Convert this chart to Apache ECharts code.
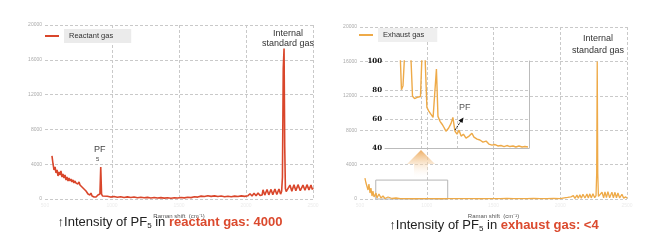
<!DOCTYPE html>
<html><head><meta charset="utf-8">
<script src="https://cdn.jsdelivr.net/npm/echarts@6/dist/echarts.min.js"></script>
<style>html,body{margin:0;padding:0;background:#fff}#c{width:650px;height:251px}</style>
</head><body><div id="c"></div>
<script>
// ---- data ----
const ramanTicks = [500, 1000, 1500, 2000, 2500];
const intensityTicks = [0, 4000, 8000, 12000, 16000, 20000];
const insetTicks = [40, 60, 80, 100];

const reactantShift = [552,560,567,575,582,590,597,604,612,619,627,634,642,649,657,664,672,679,687,694,701,709,716,724,731,739,746,754,761,769,776,784,791,799,806,813,821,828,836,843,851,858,866,873,881,888,895,903,910,916,922,929,940,965,990,1015,1040,1065,1090,1115,1140,1165,1190,1215,1240,1265,1290,1315,1340,1365,1390,1415,1440,1465,1490,1515,1540,1565,1590,1615,1640,1665,1690,1715,1740,1765,1790,1815,1840,1865,1890,1915,1940,1965,1990,2015,2030,2045,2060,2075,2090,2105,2120,2127,2140,2157,2170,2187,2200,2216,2230,2246,2258,2266,2272,2278,2284,2289,2294,2300,2312,2328,2342,2358,2372,2388,2405,2425,2440,2455,2470,2485,2495,2500];
const reactantIntensity = [4945,4025,3335,3680,2990,3335,2645,3105,2760,3220,2530,2875,2415,2760,2185,2530,2070,2415,2070,2300,1955,2185,1840,2070,1840,1955,1725,1955,1610,1725,1380,1495,1150,1265,920,805,575,690,460,690,345,460,230,345,230,345,460,345,575,3680,575,345,250,320,220,280,200,260,180,240,170,230,150,210,140,190,120,180,110,160,100,150,90,140,110,170,130,200,160,260,220,330,280,380,300,360,280,340,260,320,250,330,280,360,300,380,600,350,650,380,700,400,450,1050,450,1100,480,1100,500,1150,520,1150,560,900,2500,15000,17300,6000,1200,850,900,1600,900,1650,950,1650,950,1600,1000,1650,1050,1600,1100,1300];

const exhaustShift = [537,545,552,560,567,575,582,590,597,605,620,627,642,657,672,687,710,740,770,800,850,900,950,1000,1050,1100,1150,1200,1250,1300,1350,1400,1450,1500,1550,1600,1650,1700,1750,1800,1850,1900,1950,2000,2010,2030,2040,2055,2065,2080,2090,2098,2110,2125,2135,2147,2158,2170,2185,2200,2210,2222,2232,2245,2258,2268,2273,2277,2281,2286,2300,2313,2325,2335,2346,2357,2370,2387,2398,2410,2421,2432,2445,2462,2475,2490,2500];
const exhaustIntensity = [2436,1856,2088,1044,1740,696,1276,348,928,232,696,116,580,116,348,58,232,58,116,40,50,30,55,35,45,30,50,40,35,55,40,30,50,45,35,60,40,55,45,60,50,40,60,45,40,120,50,180,60,250,70,400,80,450,90,500,100,550,110,580,120,600,130,620,150,400,3000,16000,3000,300,120,780,140,820,150,850,150,800,140,780,130,700,120,550,100,250,80];

const insetShift = [604,639,656,664,670,678,689,699,707,715,723,730,738,744,750,756,763,771,779,787,794,800,806,814,822,829,837,847,857,864,872,880,888,896,905,915,927,938,946,958,969,981,993,1004,1016,1028,1039,1051,1063,1074,1086,1098,1109,1121,1133,1144,1156];
const insetIntensity = [160,150,120,80.2,83,110,130,110,75.7,74.1,74.8,74.1,75.5,105,130,102,68,65.2,63.2,61.1,59.8,94.5,61.8,58.4,56.4,54.3,51.6,53.6,57.0,61.1,51.6,49.5,52.3,48.2,49.5,46.8,48.2,50.2,47.5,46.1,45.5,44.1,44.8,42.7,42.0,42.4,41.4,41.7,41.0,41.7,41.0,41.4,40.7,41.4,40.7,41.0,40.7];

const zoomBoxShift = [618, 1157];
const zoomBoxIntensity = [0, 2200];

const zip = (a, b) => a.map((v, i) => [v, b[i]]);

const redC = '#d9462b', goldC = '#eeaa48';
const gridLine = {show: true, lineStyle: {color: '#c9c9c9', type: [3, 2], width: 1}};
const FONT = 'Liberation Sans, Arial, sans-serif';

function mainX(gi) {
  return {
    type: 'value', gridIndex: gi, min: ramanTicks[0], max: ramanTicks[ramanTicks.length - 1],
    interval: ramanTicks[1] - ramanTicks[0],
    axisLine: {show: false}, axisTick: {show: false},
    axisLabel: {fontSize: 5, color: '#ececec', margin: 4, fontFamily: FONT, formatter: v => String(v)},
    splitLine: Object.assign({showMinLine: false}, gridLine),
    name: 'Raman shift  (cm\u207B\u00B9)', nameLocation: 'middle', nameGap: 7,
    nameTextStyle: {fontSize: 6, color: '#555', fontFamily: FONT}
  };
}
function mainY(gi) {
  return {
    type: 'value', gridIndex: gi, min: intensityTicks[0], max: intensityTicks[intensityTicks.length - 1],
    interval: intensityTicks[1] - intensityTicks[0],
    axisLine: {show: false}, axisTick: {show: false},
    axisLabel: {fontSize: 5, color: '#aaa', margin: 3, fontFamily: FONT, formatter: v => String(v)},
    splitLine: gridLine
  };
}

const chart = echarts.init(document.getElementById('c'), null, {renderer: 'canvas'});
chart.setOption({
  animation: false,
  backgroundColor: '#fff',
  textStyle: {fontFamily: FONT},
  grid: [
    {left: 45, right: 337, top: 25, bottom: 52},
    {left: 360, right: 23, top: 27, bottom: 52},
    {left: 385, right: 121, top: 61, bottom: 103}
  ],
  legend: [
    {data: ['Reactant gas'], left: 45, top: 29, padding: 0, icon: 'rect', itemWidth: 14, itemHeight: 2,
     textStyle: {fontSize: 7.5, color: '#333', backgroundColor: '#ebebeb', padding: [3, 18, 3, 5], fontFamily: FONT}},
    {data: ['Exhaust gas'], left: 359, top: 28, padding: 0, icon: 'rect', itemWidth: 14, itemHeight: 2,
     textStyle: {fontSize: 7.5, color: '#333', backgroundColor: '#efefef', padding: [3, 13, 3, 5], fontFamily: FONT}}
  ],
  xAxis: [
    mainX(0), mainX(1),
    {type: 'value', gridIndex: 2, min: 600, max: 1160, interval: 140,
     axisLine: {show: true, lineStyle: {color: '#bbb'}}, axisTick: {show: false}, axisLabel: {show: false},
     splitLine: Object.assign({showMinLine: false, showMaxLine: false}, gridLine), z: 3}
  ],
  yAxis: [
    mainY(0), mainY(1),
    {type: 'value', gridIndex: 2, min: insetTicks[0], max: insetTicks[insetTicks.length - 1], interval: 20,
     axisLine: {show: false}, axisTick: {show: false},
     axisLabel: {fontSize: 7, fontWeight: 'bold', color: '#111', margin: 3, fontFamily: 'DejaVu Serif, serif'},
     splitLine: gridLine, z: 3},
    {type: 'value', gridIndex: 2, position: 'right', min: insetTicks[0], max: insetTicks[insetTicks.length - 1],
     axisLine: {show: true, lineStyle: {color: '#bbb'}}, axisTick: {show: false}, axisLabel: {show: false},
     splitLine: {show: false}, z: 3}
  ],
  series: [
    {name: 'Reactant gas', type: 'line', xAxisIndex: 0, yAxisIndex: 0, data: zip(reactantShift, reactantIntensity),
     symbol: 'none', color: redC, lineStyle: {width: 1.6, color: redC}},
    {name: 'Exhaust gas', type: 'line', xAxisIndex: 1, yAxisIndex: 1, data: zip(exhaustShift, exhaustIntensity),
     symbol: 'none', color: goldC, lineStyle: {width: 1.3, color: goldC},
     markArea: {silent: true, itemStyle: {color: 'rgba(0,0,0,0)', borderColor: '#b5b5b5', borderWidth: 1},
       data: [[{xAxis: zoomBoxShift[0], yAxis: zoomBoxIntensity[0]}, {xAxis: zoomBoxShift[1], yAxis: zoomBoxIntensity[1]}]]}},
    {name: 'inset', type: 'line', xAxisIndex: 2, yAxisIndex: 2, data: zip(insetShift, insetIntensity),
     symbol: 'none', color: goldC, lineStyle: {width: 1.4, color: goldC}, z: 5, clip: true}
  ],
  graphic: [
    {type: 'polygon', z: 10, shape: {points: [[407,164],[421,150],[435,164],[428,164],[428,179],[414,179],[414,164]]},
     style: {fill: new echarts.graphic.LinearGradient(0, 0, 0, 1, [
       {offset: 0, color: 'rgba(236,168,88,0.95)'}, {offset: 1, color: 'rgba(255,255,255,0)'}])}},
    {type: 'polyline', z: 10, shape: {points: [[455,130],[461,121]]}, style: {stroke: '#111', lineWidth: 1, lineDash: [2, 1]}},
    {type: 'polygon', z: 10, shape: {points: [[463.5,117.5],[458.5,120.5],[462.5,123]]}, style: {fill: '#111'}},
    {type: 'text', z: 10, left: 459, top: 103, style: {text: 'PF', fill: '#555', font: '9px Liberation Sans'}},
    {type: 'text', z: 10, left: 94, top: 145, style: {text: 'PF', fill: '#444', font: '9px Liberation Sans'}},
    {type: 'text', z: 10, left: 96, top: 156, style: {text: '5', fill: '#444', font: '6px Liberation Sans'}},
    {type: 'text', z: 10, x: 288, y: 28, style: {text: 'Internal\nstandard gas', align: 'center', fill: '#333',
      font: '9px Liberation Sans', lineHeight: 10.5}},
    {type: 'text', z: 10, x: 598, y: 33, style: {text: 'Internal\nstandard gas', align: 'center', fill: '#333',
      font: '9px Liberation Sans', lineHeight: 12}},
    {type: 'text', z: 10, x: 170, y: 222, style: {
      text: '{a|\u2191Intensity of PF}{s|5}{a| in }{r|reactant gas: 4000}', align: 'center', verticalAlign: 'middle',
      rich: {a: {fontSize: 13, fill: '#222', fontFamily: FONT}, s: {fontSize: 8, fill: '#222', fontFamily: FONT, padding: [7, 0, 0, 0]},
             r: {fontSize: 13, fontWeight: 'bold', fill: '#db4a2e', fontFamily: FONT}}}},
    {type: 'text', z: 10, x: 494, y: 225, style: {
      text: '{a|\u2191Intensity of PF}{s|5}{a| in }{r|exhaust gas: <4}', align: 'center', verticalAlign: 'middle',
      rich: {a: {fontSize: 13, fill: '#222', fontFamily: FONT}, s: {fontSize: 8, fill: '#222', fontFamily: FONT, padding: [7, 0, 0, 0]},
             r: {fontSize: 13, fontWeight: 'bold', fill: '#db4a2e', fontFamily: FONT}}}}
  ]
});
</script></body></html>
